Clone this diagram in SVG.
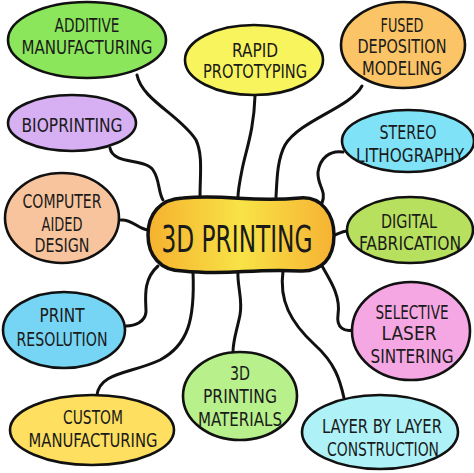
<svg xmlns="http://www.w3.org/2000/svg" width="474" height="473" viewBox="0 0 474 473">
<defs>
<linearGradient id="cg" x1="0" y1="0" x2="1" y2="0">
<stop offset="0" stop-color="#f5b12f"/>
<stop offset="0.5" stop-color="#f8e346"/>
<stop offset="1" stop-color="#f6b233"/>
</linearGradient>
<style>
.n{stroke:#111;stroke-width:2.6}
.t{font-family:"DejaVu Sans Condensed","DejaVu Sans","Liberation Sans",sans-serif;font-size:20px;fill:#1a1a1a;text-anchor:middle}
.c{fill:none;stroke:#111;stroke-width:3;stroke-linecap:round}
</style>
</defs>
<rect width="474" height="473" fill="#fff"/>
<g id="connectors">
<path class="c" d="M137,75 C142,100 180,115 196,140 C203,155 200,175 200,197"/>
<path class="c" d="M255,96 C254,130 246,150 242,170 C239,185 238,192 238,197"/>
<path class="c" d="M362,86 C350,108 300,120 285,145 C277,160 277,180 276,197"/>
<path class="c" d="M343,152 C330,150 320,158 318,172 C317,186 327,190 322,203"/>
<path class="c" d="M110,148 C113,165 145,158 153,170 C160,180 158,192 163,200"/>
<path class="c" d="M121,220 C132,219 138,229 148,230"/>
<path class="c" d="M158,266 C142,280 146,300 146,312 C145,322 135,326 126,326"/>
<path class="c" d="M193,272 C195,320 188,345 160,360 C130,374 100,372 97,395"/>
<path class="c" d="M238,272 C237,285 243,300 240,315 C237,330 233,340 233,352"/>
<path class="c" d="M283,271 C279,300 290,322 315,345 C335,363 340,380 344,398"/>
<path class="c" d="M322,266 C330,280 341,296 338,315 C336,328 345,332 353,330"/>
<path class="c" d="M333,236 C338,234 342,231 348,231"/>
</g>
<g id="center">
<path d="M183,198 C230,194 250,203 300,198 C322,196 334,215 334,235 C334,258 322,272 300,271 C250,268 230,276 183,271 C160,271 148,255 148,235 C148,214 160,199 183,198 Z" fill="url(#cg)" stroke="#111" stroke-width="3.5"/>
<text x="237" y="252" style="font-family:'DejaVu Sans Condensed','DejaVu Sans',sans-serif;font-size:38px;fill:#1a1a1a;text-anchor:middle" textLength="151" lengthAdjust="spacingAndGlyphs">3D PRINTING</text>
</g>
<g id="additive-manufacturing">
<ellipse class="n" cx="87" cy="40" rx="79" ry="38" fill="#8ce65c"/>
<text class="t" x="87" y="32" textLength="65" lengthAdjust="spacingAndGlyphs">ADDITIVE</text>
<text class="t" x="87" y="54" textLength="131" lengthAdjust="spacingAndGlyphs">MANUFACTURING</text>
</g>
<g id="rapid-prototyping">
<ellipse class="n" cx="254" cy="60" rx="69" ry="35" fill="#f8f45e"/>
<text class="t" x="255" y="57" textLength="46" lengthAdjust="spacingAndGlyphs">RAPID</text>
<text class="t" x="255" y="78" textLength="104" lengthAdjust="spacingAndGlyphs">PROTOTYPING</text>
</g>
<g id="fused-deposition-modeling">
<ellipse class="n" cx="403" cy="45" rx="62" ry="43" fill="#fbc466"/>
<text class="t" x="402" y="32" textLength="43" lengthAdjust="spacingAndGlyphs">FUSED</text>
<text class="t" x="402" y="53" textLength="89" lengthAdjust="spacingAndGlyphs">DEPOSITION</text>
<text class="t" x="402" y="75" textLength="80" lengthAdjust="spacingAndGlyphs">MODELING</text>
</g>
<g id="stereo-lithography">
<ellipse class="n" cx="408" cy="141" rx="66" ry="31" fill="#7fe2f6"/>
<text class="t" x="408" y="139" textLength="57" lengthAdjust="spacingAndGlyphs">STEREO</text>
<text class="t" x="410" y="162" textLength="108" lengthAdjust="spacingAndGlyphs">LITHOGRAPHY</text>
</g>
<g id="bioprinting">
<ellipse class="n" cx="72" cy="123" rx="64" ry="28" fill="#d7b0f3"/>
<text class="t" x="72" y="132" textLength="101" lengthAdjust="spacingAndGlyphs">BIOPRINTING</text>
</g>
<g id="computer-aided-design">
<ellipse class="n" cx="62" cy="218" rx="57" ry="45" fill="#f8c49d"/>
<text class="t" x="62" y="208" textLength="79" lengthAdjust="spacingAndGlyphs">COMPUTER</text>
<text class="t" x="62" y="231" textLength="41" lengthAdjust="spacingAndGlyphs">AIDED</text>
<text class="t" x="62" y="252" textLength="55" lengthAdjust="spacingAndGlyphs">DESIGN</text>
</g>
<g id="digital-fabrication">
<ellipse class="n" cx="410" cy="230" rx="63" ry="33" fill="#b8e05f"/>
<text class="t" x="409" y="228" textLength="56" lengthAdjust="spacingAndGlyphs">DIGITAL</text>
<text class="t" x="410" y="250" textLength="102" lengthAdjust="spacingAndGlyphs">FABRICATION</text>
</g>
<g id="print-resolution">
<ellipse class="n" cx="64" cy="330" rx="61" ry="38" fill="#76d5f4"/>
<text class="t" x="62" y="322" textLength="45" lengthAdjust="spacingAndGlyphs">PRINT</text>
<text class="t" x="62" y="346" textLength="91" lengthAdjust="spacingAndGlyphs">RESOLUTION</text>
</g>
<g id="selective-laser-sintering">
<ellipse class="n" cx="411" cy="331" rx="59" ry="49" fill="#f5a7e3"/>
<text class="t" x="412" y="319" textLength="73" lengthAdjust="spacingAndGlyphs">SELECTIVE</text>
<text class="t" x="409" y="340" textLength="55" lengthAdjust="spacingAndGlyphs">LASER</text>
<text class="t" x="412" y="363" textLength="83" lengthAdjust="spacingAndGlyphs">SINTERING</text>
</g>
<g id="3d-printing-materials">
<ellipse class="n" cx="240" cy="396" rx="57" ry="44" fill="#b8f08c"/>
<text class="t" x="240" y="380" textLength="20" lengthAdjust="spacingAndGlyphs">3D</text>
<text class="t" x="240" y="403" textLength="74" lengthAdjust="spacingAndGlyphs">PRINTING</text>
<text class="t" x="240" y="426" textLength="84" lengthAdjust="spacingAndGlyphs">MATERIALS</text>
</g>
<g id="custom-manufacturing">
<ellipse class="n" cx="92" cy="430" rx="82" ry="35" fill="#fedf5f"/>
<text class="t" x="93" y="424" textLength="60" lengthAdjust="spacingAndGlyphs">CUSTOM</text>
<text class="t" x="93" y="447" textLength="129" lengthAdjust="spacingAndGlyphs">MANUFACTURING</text>
</g>
<g id="layer-by-layer-construction">
<ellipse class="n" cx="380" cy="432" rx="78" ry="37" fill="#aef2f8"/>
<text class="t" x="382" y="433" textLength="120" lengthAdjust="spacingAndGlyphs">LAYER BY LAYER</text>
<text class="t" x="383" y="456" textLength="112" lengthAdjust="spacingAndGlyphs">CONSTRUCTION</text>
</g>
</svg>
